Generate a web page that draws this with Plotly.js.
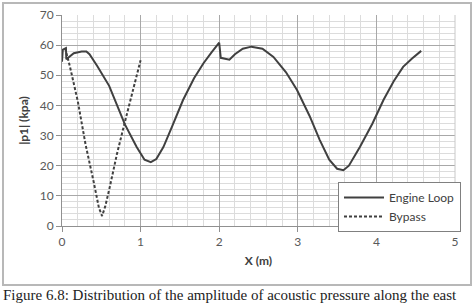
<!DOCTYPE html>
<html><head><meta charset="utf-8">
<script src="https://cdn.plot.ly/plotly-3.0.1.min.js"></script>
<style>html,body{margin:0;padding:0;background:#fff;}#chart{width:474px;height:305px;}</style>
</head><body><div id="chart"></div>
<script>
// Engine Loop series
const engineX = [0, 0.01, 0.05, 0.055, 0.15, 0.25, 0.31, 0.35, 0.45, 0.6, 0.8, 0.95, 1.05, 1.13, 1.2, 1.29, 1.4, 1.54, 1.68, 1.8, 1.9, 2.0, 2.02, 2.1, 2.13, 2.2, 2.3, 2.41, 2.55, 2.69, 2.85, 2.99, 3.15, 3.28, 3.4, 3.5, 3.58, 3.65, 3.79, 3.95, 4.09, 4.22, 4.34, 4.45, 4.57];
const engineY = [54.5, 58.5, 59, 55.3, 57.3, 57.9, 57.9, 57, 53, 46.5, 33.7, 26.2, 22, 21.2, 22.2, 26.2, 33, 41.8, 49, 54, 57.5, 60.8, 55.8, 55.5, 55.2, 57, 58.8, 59.5, 58.8, 56.1, 51, 45.1, 36.5, 28.5, 22, 19, 18.5, 20, 26.2, 34, 41.8, 48, 52.8, 55.5, 58.1];
// Bypass series
const bypassX = [0.04, 0.1, 0.2, 0.3, 0.4, 0.47, 0.51, 0.55, 0.6, 0.7, 0.8, 0.9, 1.0];
const bypassY = [59, 53, 41.5, 27, 15, 6, 3.3, 6.5, 12, 24, 34.5, 45, 55];
const seriesNames = ['Engine Loop', 'Bypass'];
const xTicks = [0, 1, 2, 3, 4, 5];
const yTicks = [0, 10, 20, 30, 40, 50, 60, 70];
const caption = 'Figure 6.8: Distribution of the amplitude of acoustic pressure along the east';

const W = 474, H = 305;
const L = 62, R = 19, T = 15, B = 79;
const pw = W - L - R, ph = H - T - B;
const px = v => (v - L) / pw;
const py = v => (H - B - v) / ph;

const font = 'Lato, "Liberation Sans", Arial, sans-serif';
const lineColor = '#404040';

const traces = [
  {x: engineX, y: engineY, name: seriesNames[0], mode: 'lines', type: 'scatter',
   line: {color: lineColor, width: 2}},
  {x: bypassX, y: bypassY, name: seriesNames[1], mode: 'lines', type: 'scatter',
   line: {color: lineColor, width: 2, dash: '3px,2px'}}
];

const layout = {
  width: W, height: H,
  margin: {l: L, r: R, t: T, b: B, pad: 0},
  paper_bgcolor: '#fff', plot_bgcolor: '#fff',
  font: {family: font, color: '#595959', size: 12},
  showlegend: true,
  legend: {x: px(338), y: py(182), xanchor: 'left', yanchor: 'top',
    bgcolor: '#fff', bordercolor: '#808080', borderwidth: 1,
    font: {family: font, size: 12, color: '#404040'}, tracegroupgap: 0,
    itemwidth: 40},
  xaxis: {range: [0, 5], tickvals: xTicks, ticktext: xTicks.map(String),
    showgrid: true, gridcolor: '#a8a8a8', gridwidth: 1,
    minor: {dtick: 0.2, showgrid: true, gridcolor: '#dcdcdc', gridwidth: 1},
    zeroline: false, showline: true, linecolor: '#909090', linewidth: 1,
    ticks: 'outside', ticklen: 5, tickcolor: '#909090',
    tickfont: {family: font, size: 12, color: '#595959'},
    title: {text: '<b>X (m)</b>', font: {family: font, size: 12, color: '#404040'}, standoff: 8}},
  yaxis: {range: [0, 70], tickvals: yTicks, ticktext: yTicks.map(String),
    showgrid: true, gridcolor: '#a8a8a8', gridwidth: 1,
    minor: {dtick: 2, showgrid: true, gridcolor: '#dcdcdc', gridwidth: 1},
    zeroline: false, showline: true, linecolor: '#909090', linewidth: 1,
    ticks: 'outside', ticklen: 5, tickcolor: '#909090',
    tickfont: {family: font, size: 12, color: '#595959'},
    title: {text: '<b>|p1| (kpa)</b>', font: {family: font, size: 12, color: '#404040'}, standoff: 8}},
  shapes: [
    {type: 'rect', xref: 'paper', yref: 'paper', x0: px(3), x1: px(471), y0: py(285), y1: py(3),
     line: {color: '#b8b8b8', width: 2}, fillcolor: 'rgba(0,0,0,0)', layer: 'below'},
    {type: 'line', xref: 'paper', yref: 'paper', x0: px(455), x1: px(455), y0: 0, y1: 1,
     line: {color: '#c8c8c8', width: 1}}
  ],
  annotations: [
    {text: caption, xref: 'paper', yref: 'paper', x: px(2), y: py(286), xanchor: 'left', yanchor: 'top',
     showarrow: false, borderpad: 0,
     font: {family: '"Liberation Serif", "Times New Roman", serif', size: 15, color: '#222'}}
  ]
};

Plotly.newPlot('chart', traces, layout, {staticPlot: true, displayModeBar: false});
</script></body></html>
